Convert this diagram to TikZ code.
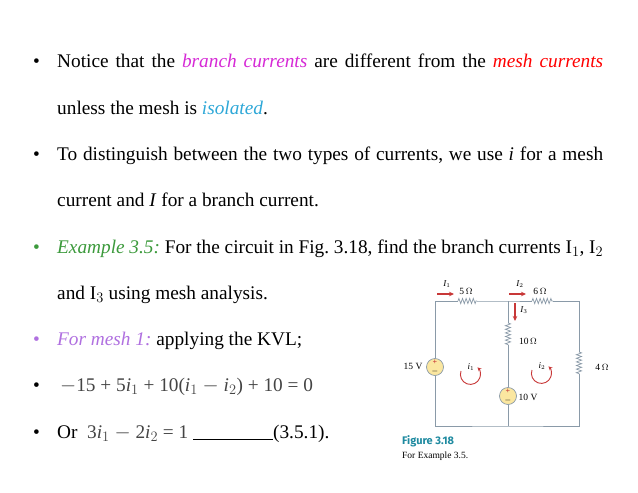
\documentclass[tikz,border=0pt]{standalone}
\usepackage{fontspec}
\setmainfont{Liberation Serif}
\newfontfamily\figfont{Fira Sans}
\usetikzlibrary{decorations.pathmorphing,arrows.meta}
\definecolor{magc}{HTML}{D629D6}
\definecolor{cyanc}{HTML}{2EA8D8}
\definecolor{greenc}{HTML}{3C9A3C}
\definecolor{purpc}{HTML}{B070E0}
\definecolor{eqc}{HTML}{444444}
\definecolor{wirec}{HTML}{8A9AA8}
\definecolor{arrc}{HTML}{C83838}
\definecolor{srcc}{HTML}{FBE7A0}
\definecolor{figc}{HTML}{1E8AA0}
\newcommand{\jl}[1]{\makebox[546pt][s]{#1}}
\frenchspacing
\begin{document}
\begin{tikzpicture}[x=1pt,y=-1pt,
  txt/.style={anchor=base west,inner sep=0pt,font=\fontsize{19.3}{21}\selectfont},
  bul/.style={anchor=base west,inner sep=0pt,font=\fontsize{19.3}{21}\selectfont},
  wire/.style={draw=wirec,line width=0.8pt},
  res/.style={draw=wirec,line width=0.7pt,decorate,decoration={zigzag,segment length=3.6pt,amplitude=2.6pt}},
  src/.style={circle,draw=wirec,fill=srcc,minimum size=17pt,inner sep=0pt,line width=0.7pt},
  ca/.style={draw=arrc,line width=1.2pt,-{Stealth[length=5pt,width=4.5pt]}},
  cl/.style={font=\fontsize{9}{10}\selectfont\itshape,inner sep=0pt},
  vl/.style={font=\fontsize{9.5}{10}\selectfont,inner sep=0pt}]
\useasboundingbox[fill=white] (0,0) rectangle (638,493);
% bullets
\foreach \n/\y/\c in {a/67/black,b/160/black,c/253/greenc,d/345/purpc,e/391/black,f/438/black}
  \node[bul,text=\c] (b\n) at (33,\y) {•};
\node[txt] (t1) at (57,67) {\jl{Notice that the \textcolor{magc}{\itshape branch currents} are different from the \textcolor{red}{\itshape mesh currents}}};
\node[txt] (t2) at (57,114) {unless the mesh is \textcolor{cyanc}{\itshape isolated}.};
\node[txt] (t3) at (57,160) {\jl{To distinguish between the two types of currents, we use \textit{i} for a mesh}};
\node[txt] (t4) at (57,206) {current and \textit{I} for a branch current.};
\node[txt] (t5) at (57,253) {\jl{\textcolor{greenc}{\itshape Example 3.5:} For the circuit in Fig. 3.18, find the branch currents I$_1$, I$_2$}};
\node[txt] (t6) at (57,299) {and I$_3$ using mesh analysis.};
\node[txt] (t7) at (57,345) {\textcolor{purpc}{\itshape For mesh 1:} applying the KVL;};
\node[txt,text=eqc] (t8) at (60,391) {$-$15 + 5\textit{i}$_1$ + 10(\textit{i}$_1$ $-$ \textit{i}$_2$) + 10 = 0};
\node[txt] (t9) at (57,438) {Or\ \ \textcolor{eqc}{3\textit{i}$_1$ $-$ 2\textit{i}$_2$ = 1} \rule[-2pt]{80pt}{0.8pt}(3.5.1).};
% circuit
\coordinate (tl) at (435,301); \coordinate (tm) at (508,301); \coordinate (tr) at (579,301);
\coordinate (bl) at (435,426); \coordinate (bm) at (508,426); \coordinate (br) at (579,426);
\node[src] (s15) at (435,367) {};
\node[src] (s10) at (508,396) {};
\node[font=\fontsize{8}{8}\selectfont\bfseries,text=arrc] at (435,362) {+};
\node[font=\fontsize{8}{8}\selectfont\bfseries] at (435,371) {$-$};
\node[font=\fontsize{8}{8}\selectfont\bfseries,text=arrc] at (508,391) {+};
\node[font=\fontsize{8}{8}\selectfont\bfseries] at (508,400) {$-$};
\coordinate (r5a) at (458,301); \coordinate (r5b) at (477,301);
\coordinate (r6a) at (532,301); \coordinate (r6b) at (553,301);
\coordinate (r10a) at (508,323); \coordinate (r10b) at (508,345);
\coordinate (r4a) at (579,352); \coordinate (r4b) at (579,374);
\draw[wire] (s15.north) -- (tl) -- (r5a);
\draw[res] (r5a) -- (r5b);
\draw[wire] (r5b) -- (tm) -- (r6a);
\draw[res] (r6a) -- (r6b);
\draw[wire] (r6b) -- (tr) -- (r4a);
\draw[res] (r4a) -- (r4b);
\draw[wire] (r4b) -- (br) -- (bm) -- (bl) -- (s15.south);
\draw[wire] (tm) -- (r10a);
\draw[res] (r10a) -- (r10b);
\draw[wire] (r10b) -- (s10.north);
\draw[wire] (s10.south) -- (bm);
% current arrows
\coordinate (a1s) at (437,294); \coordinate (a1e) at (454,294);
\coordinate (a2s) at (509,294); \coordinate (a2e) at (526,294);
\coordinate (a3s) at (515,303); \coordinate (a3e) at (515,321);
\draw[ca] (a1s) -- (a1e); \draw[ca] (a2s) -- (a2e); \draw[ca] (a3s) -- (a3e);
\node[cl] (l1) at (447,284) {I$_1$};
\node[cl] (l2) at (520,284) {I$_2$};
\node[cl] (l3) at (524,310) {I$_3$};
\node[vl] (v5) at (466,291) {5\,$\Omega$};
\node[vl] (v6) at (540,291) {6\,$\Omega$};
\node[vl] (v10) at (528,341) {10\,$\Omega$};
\node[vl] (v4) at (602,367) {4\,$\Omega$};
\node[vl] (v15) at (413,366) {15 V};
\node[vl] (v10v) at (528,397) {10 V};
% mesh arcs
\node[cl] (m1) at (471,367) {i$_1$};
\node[cl] (m2) at (542,366) {i$_2$};
\draw[draw=arrc,line width=0.9pt,-{Stealth[length=4pt,width=4pt]}] (461,371) arc[start angle=200,end angle=-45,radius=10];
\draw[draw=arrc,line width=0.9pt,-{Stealth[length=4pt,width=4pt]}] (532,370) arc[start angle=200,end angle=-45,radius=10];
\node[anchor=base west,inner sep=0pt,text=figc,font=\figfont\bfseries\fontsize{11}{12}\selectfont] (fig) at (402,444) {Figure 3.18};
\node[anchor=base west,inner sep=0pt,font=\fontsize{9.5}{10}\selectfont] (fcap) at (402,458) {For Example 3.5.};
\end{tikzpicture}
\end{document}
